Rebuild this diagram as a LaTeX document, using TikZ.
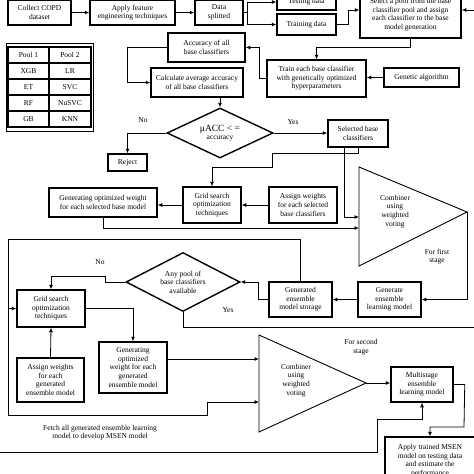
\documentclass[tikz,border=0pt]{standalone}
\usepackage{fontspec}
\setmainfont{Liberation Serif}
\usetikzlibrary{arrows.meta,shapes.geometric}
\newcommand\fs{\fontsize{7.5}{8.6}\selectfont}
\tikzset{
  box/.style={draw, line width=1.5pt, align=center, inner sep=0pt, font=\fs},
  sz/.style 2 args={minimum width=#1pt, minimum height=#2pt},
  lbl/.style={align=center, inner sep=0pt, font=\fs},
  conn/.style={line width=0.8pt},
  arr/.style={conn, -{Latex[length=4.5pt,width=4pt]}},
  dia/.style={draw, diamond, line width=1.4pt, shape aspect=2, inner sep=0pt, align=center, font=\fs},
  tri/.style={line width=0.9pt, line join=miter},
  cell/.style={inner sep=0pt, font=\fs},
}
\begin{document}
\begin{tikzpicture}[x=1pt,y=-1pt]
\useasboundingbox (0,0) rectangle (474,474);
\fill[white] (0,0) rectangle (474,474);
\clip (0,0) rectangle (474,474);

% ---- top row
\node[box, sz={63}{25}] (collect) at (39.5,12.5) {Collect COPD\\dataset};
\node[box, sz={85}{25}] (apply) at (132.5,12.5) {Apply feature\\engineering techniques};
\node[box, sz={48}{25}] (split) at (219,12.5) {Data\\splitted};
\node[box, sz={59}{16}] (testing) at (306.5,2) {Testing data};
\node[box, sz={59}{21}] (training) at (306.5,24.5) {Training data};
\node[box, sz={101}{47}] (select) at (410.5,14.5) {Select a pool from the base\\classifier pool and assign\\each classifier to the base\\model generation};

% ---- second band
\node[box, sz={77}{29}] (acc) at (206.5,47.5) {Accuracy of all\\base classifiers};
\node[box, sz={99}{37}] (train) at (316.5,78.5) {Train each base classifier\\with genetically optimized\\hyperparameters};
\node[box, sz={75}{19}] (genetic) at (421.5,77.5) {Genetic algorithm};
\node[box, sz={92}{29}] (calc) at (197,82.5) {Calculate average accuracy\\of all base classifiers};

% ---- pool table
\draw[line width=0.8pt] (6,43) rectangle (93,131);
\draw[line width=1.2pt] (8,47) rectangle (91,127);
\foreach \yy in {63,79,95,111} \draw[line width=1.2pt] (8,\yy) -- (91,\yy);
\draw[line width=1.2pt] (49,47) -- (49,127);
\node[cell] (p1) at (28.5,55) {Pool 1};
\node[cell] (p2) at (70,55) {Pool 2};
\node[cell] (t1a) at (28.5,71) {XGB};
\node[cell] (t1b) at (70,71) {LR};
\node[cell] (t2a) at (28.5,87) {ET};
\node[cell] (t2b) at (70,87) {SVC};
\node[cell] (t3a) at (28.5,103) {RF};
\node[cell] (t3b) at (70,103) {NuSVC};
\node[cell] (t4a) at (28.5,119) {GB};
\node[cell] (t4b) at (70,119) {KNN};

% ---- decision 1
\node[dia, sz={106}{50}] (mu) at (220,133) {{\fontsize{9.5}{10}\selectfont μACC < =}\\accuracy};
\node[box, sz={39}{17}] (reject) at (127.5,162.5) {Reject};
\node[box, sz={60}{27}] (selected) at (358,133.5) {Selected base\\classifiers};
\node[lbl] (no1) at (143,120) {No};
\node[lbl] (yes1) at (293,122) {Yes};

% ---- weighting 1
\node[box, sz={58}{36}] (grid1) at (212,205) {Grid search\\optimization\\techniques};
\node[box, sz={108}{29}] (genopt1) at (103,202.5) {Generating optimized weight\\for each selected base model};
\node[box, sz={68}{36}] (assign1) at (303,205) {Assign weights\\for each selected\\base classifiers};

% ---- combiner 1
\coordinate (c1top) at (359,167);
\coordinate (c1bot) at (359,266);
\coordinate (c1apex) at (467,212);
\draw[tri] (c1top) -- (c1apex) -- (c1bot) -- cycle;
\coordinate (c1in1) at (359,217);
\coordinate (c1in2) at (359,228);
\node[lbl] (comb1) at (395,211.5) {Combiner\\using\\weighted\\voting};
\node[lbl] (first) at (437,256.5) {For first\\stage};

% ---- stage 1 loop
\node[box, sz={63}{35}] (geneb) at (389.5,299.5) {Generate\\ensemble\\learning model};
\node[box, sz={63}{35}] (storage) at (300.5,299.5) {Generated\\ensemble\\model storage};
\node[dia, sz={114}{59}] (anypool) at (183,282) {Any pool of\\base classifiers\\available};
\node[lbl] (no2) at (100,262) {No};
\node[lbl] (yes2) at (228,310) {Yes};
\node[box, sz={68}{37}] (grid2) at (51,308.5) {Grid search\\optimization\\techniques};
\node[box, sz={68}{51}] (genopt2) at (133,367.5) {Generating\\optimized\\weight for each\\generated\\ensemble model};
\node[box, sz={67}{44}] (assign2) at (50.5,380) {Assign weights\\for each\\generated\\ensemble model};

% ---- combiner 2
\coordinate (c2top) at (259,335);
\coordinate (c2bot) at (259,432);
\coordinate (c2apex) at (366,383);
\draw[tri] (c2top) -- (c2apex) -- (c2bot) -- cycle;
\coordinate (c2in1) at (259,359);
\coordinate (c2in2) at (259,402);
\node[lbl] (comb2) at (296,380.5) {Combiner\\using\\weighted\\voting};
\node[lbl] (second) at (361,347.5) {For second\\stage};

\node[box, sz={62}{35}] (multi) at (422,384.5) {Multistage\\ensemble\\learning model};
\node[box, sz={90}{47}] (applym) at (430,460.5) {Apply trained MSEN\\model on testing data\\and estimate the\\performance};
\node[lbl] (fetch) at (100,432.5) {Fetch all generated ensemble learning\\model to develop MSEN model};
\coordinate (fetchstart) at (-3,452);
\coordinate (rightrail) at (478,327);

% ---- connectors
\draw[arr] (collect.east) -- (apply.west);
\draw[arr] (apply.east) -- (split.west);
\coordinate (sp) at (247,12.5);
\draw[conn] (split.east) -- (sp);
\draw[arr] (sp) |- (testing.west);
\draw[arr] (sp) |- (training.west);
\draw[arr] (training.east) -- (348,24.5) -- (348,10) -- (select.west |- 348,10);
\draw[arr] (anypool.south) |- (rightrail) -- (478,10) -- (select.east |- 478,10);
\draw[arr] (select.south) -- ++(0,9) -| (train.north);
\draw[arr] (genetic.west) -- (train.east |- genetic.west);
\draw[arr] (train.west) -- ++(-7,0) |- (acc.east);
\draw[arr] (acc.west) -- (127,47.5) |- (calc.west);
\draw[arr] (calc.south -| mu.north) -- (mu.north);
\draw[arr] (mu.west) -| (reject.north);
\draw[arr] (mu.east) -- (selected.west |- mu.east);
\draw[arr] (selected.south) -- ++(0,6) -| (272,167) -| (grid1.north);
\draw[arr] (selected.south -| 344,0) -- (344,217) -- (c1in1);
\draw[arr] (assign1.west) -- (grid1.east);
\draw[arr] (grid1.west) -- (genopt1.east |- grid1.west);
\draw[arr] (genopt1.south) |- (c1in2);
\draw[arr] (c1apex) |- (geneb.east);
\draw[arr] (geneb.west) -- (storage.east);
\draw[arr] (storage.west) -- ++(-10,0) |- (anypool.east);
\draw[arr] (storage.north) |- (8,239) -- (8,415) -- (207,415) -- (207,402) -- (c2in2);
\draw[arr] (8,308.5) -- (grid2.west);
\draw[arr] (anypool.west) -- (105,282) -- (105,276) -| (grid2.north);
\draw[arr] (grid2.east) -| (genopt2.north);
\draw[arr] (assign2.north) -- (grid2.south);
\draw[arr] (genopt2.east |- c2in1) -- (c2in1);
\draw[arr] (c2apex) -- (multi.west |- c2apex);
\draw[arr] (multi.east) -- ++(11,0) -- (464,427) -| (applym.north);
\draw[arr] (fetchstart) -| (377,419) -| (multi.south);
\end{tikzpicture}
\end{document}
